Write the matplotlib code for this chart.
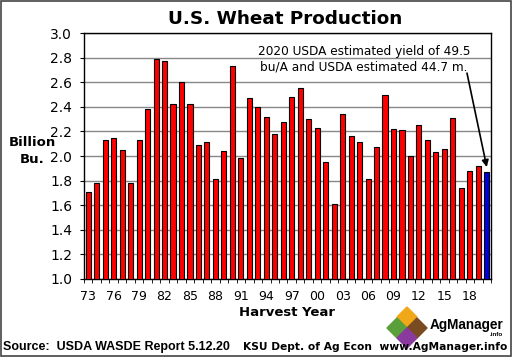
import matplotlib.pyplot as plt
import matplotlib.patches as mpatches
import numpy as np

years = list(range(1973, 2021))
production = [1.71, 1.78, 2.13, 2.15, 2.05, 1.78, 2.13, 2.38, 2.79, 2.77,
              2.42, 2.60, 2.42, 2.09, 2.11, 1.81, 2.04, 2.73, 1.98, 2.47,
              2.40, 2.32, 2.18, 2.28, 2.48, 2.55, 2.30, 2.23, 1.95, 1.61,
              2.34, 2.16, 2.11, 1.81, 2.07, 2.50, 2.22, 2.21, 2.00, 2.25,
              2.13, 2.03, 2.06, 2.31, 1.74, 1.88, 1.92, 1.87]
tick_years = years[::3]
tick_labels = [str(y)[2:] for y in tick_years]

fig = plt.figure(figsize=(5.12, 3.57), dpi=100)
ax = fig.add_axes([0.164, 0.2185, 0.795, 0.689])

x = np.arange(len(years))
colors = ["red"] * (len(years) - 1) + ["#0000dd"]
ax.bar(x, production, width=0.6, bottom=0, color=colors, edgecolor="black",
       linewidth=0.8, zorder=3)

yt = np.arange(1.0, 3.01, 0.2)
ax.set_ylim(1.0, 3.0)
ax.set_yticks(yt)
ax.set_yticklabels([f"{v:.1f}" for v in yt], fontsize=10)
ax.set_xlim(-0.5, len(years) - 0.5)
ax.set_xticks([years.index(y) for y in tick_years])
ax.set_xticklabels(tick_labels, fontsize=9)
ax.set_xticks(np.arange(-0.5, len(years), 1), minor=True)
ax.tick_params(axis="x", which="major", length=0, pad=8)
ax.tick_params(axis="x", which="minor", length=3, direction="out")
ax.tick_params(axis="y", length=3, direction="out", pad=5.5)
ax.grid(axis="y", color="#888888", linewidth=1, zorder=0)
for s in ax.spines.values():
    s.set_linewidth(1)

ax.set_xlabel("Harvest Year", fontsize=9.5, fontweight="bold", labelpad=2)
# y label as two separate lines, like the original
fig.text(0.063, 1 - 143 / 357, "Billion", fontsize=9.5, fontweight="bold",
         ha="center", va="center")
fig.text(0.063, 1 - 159.5 / 357, "Bu.", fontsize=9.5, fontweight="bold",
         ha="center", va="center")
fig.text(0.557, 0.948, "U.S. Wheat Production", fontsize=13.2, fontweight="bold",
         ha="center", va="center")

ax.text(0.688, 0.894, "2020 USDA estimated yield of 49.5\nbu/A and USDA estimated 44.7 m.",
        transform=ax.transAxes, ha="center", va="center", fontsize=8.7,
        linespacing=1.3)
ax.annotate("", xy=(len(years) - 1, 1.91), xytext=(0.941, 0.837),
            textcoords="axes fraction",
            arrowprops=dict(arrowstyle="-|>", color="black", lw=1.2,
                            shrinkA=0, shrinkB=0, mutation_scale=10))

fig.text(0.006, 0.012, "Source:  USDA WASDE Report 5.12.20", fontsize=9,
         family="Liberation Sans", fontweight="bold", ha="left", va="bottom")
fig.text(0.99, 0.014, "KSU Dept. of Ag Econ  www.AgManager.info", fontsize=7.7,
         fontweight="bold", ha="right", va="bottom")

# logo, drawn in pixel units
lg = fig.add_axes([385 / 512, 1 - 350 / 357, 45 / 512, 45 / 357])
lg.set_xlim(385, 430)
lg.set_ylim(350, 305)
lg.axis("off")
for c, cx, cy in [("#f0a818", 407, 317), ("#5aa03a", 397, 328),
                  ("#7a4a22", 417, 328), ("#8a3a9e", 407, 338)]:
    r = 10
    lg.add_patch(mpatches.Polygon([(cx, cy - r), (cx + r, cy), (cx, cy + r),
                                   (cx - r, cy)], closed=True, color=c))
fig.text(430 / 512, 1 - 325 / 357, "AgManager", fontsize=9.8,
         family="Liberation Sans", fontweight="bold", ha="left", va="center")
fig.text(503 / 512, 1 - 334 / 357, ".info", fontsize=4.5,
         family="Liberation Sans", fontweight="bold", ha="right", va="center")

fig.patches.append(mpatches.Rectangle((0.001, 0.002), 0.997, 0.995, fill=False,
                                      edgecolor="#444444", linewidth=1.2,
                                      transform=fig.transFigure))
fig.savefig("out.png", dpi=100)
